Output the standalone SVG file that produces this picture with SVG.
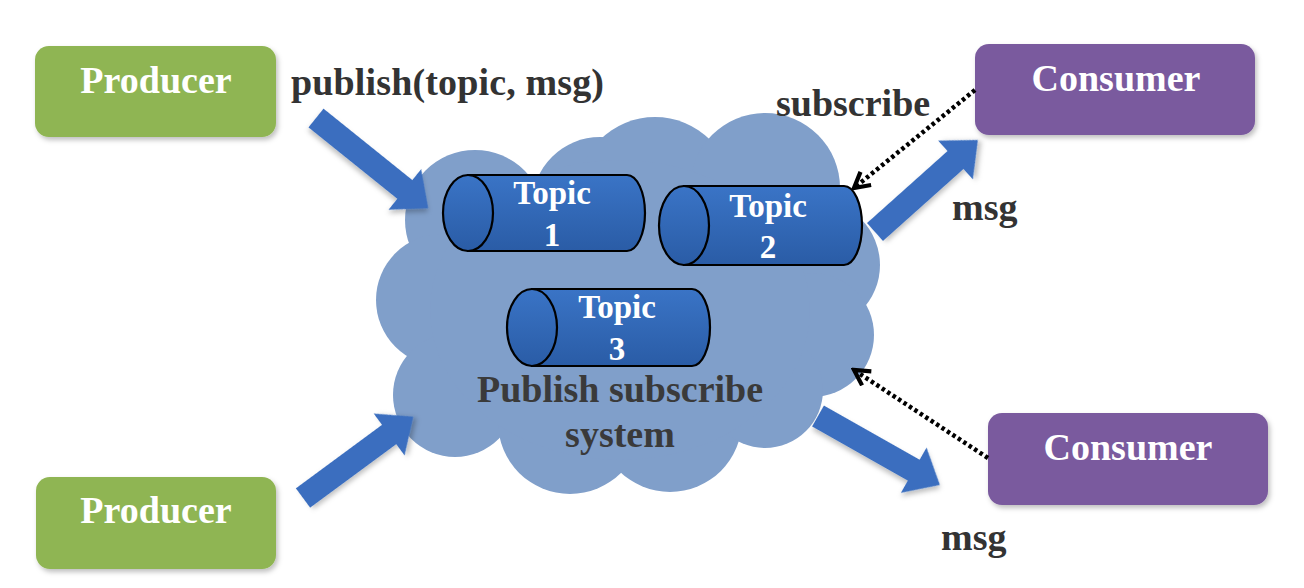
<svg xmlns="http://www.w3.org/2000/svg" width="1304" height="588" viewBox="0 0 1304 588">
<style>
.lbl{font-family:"Liberation Serif",serif;font-weight:bold;font-size:38px;fill:#333333}
.box{font-family:"Liberation Serif",serif;font-weight:bold;font-size:38px;fill:#ffffff}
.tp{font-family:"Liberation Serif",serif;font-weight:bold;font-size:33px;fill:#ffffff}
.cyl{fill:url(#cg);stroke:#000;stroke-width:2.2}
.barrow{fill:#3a6ebf;filter:url(#sh)}
.dot{stroke:#000;stroke-width:4.5;stroke-dasharray:3.5 3;fill:none;marker-end:url(#chev)}
</style>
<defs>
<linearGradient id="cg" x1="0" y1="0" x2="0" y2="1">
<stop offset="0" stop-color="#3a74c6"/>
<stop offset="1" stop-color="#2a5ca6"/>
</linearGradient>
<filter id="sh" x="-20%" y="-20%" width="140%" height="140%">
<feDropShadow dx="2" dy="3" stdDeviation="2.5" flood-color="#000" flood-opacity="0.25"/>
</filter>
<marker id="chev" viewBox="0 0 12 12" refX="10" refY="6" markerWidth="4.5" markerHeight="4.5" orient="auto" markerUnits="strokeWidth">
<path d="M1,1 L10,6 L1,11" fill="none" stroke="#000" stroke-width="2.5"/>
</marker>
</defs>
<rect width="1304" height="588" fill="#ffffff"/>

<g id="cloud" fill="#809fca">
<circle cx="475" cy="220" r="70"/>
<circle cx="600" cy="205" r="68"/>
<circle cx="655" cy="195" r="78"/>
<circle cx="765" cy="188" r="75"/>
<circle cx="815" cy="265" r="65"/>
<circle cx="812" cy="335" r="62"/>
<circle cx="442" cy="300" r="66"/>
<circle cx="455" cy="395" r="62"/>
<circle cx="570" cy="422" r="72"/>
<circle cx="670" cy="420" r="72"/>
<circle cx="765" cy="390" r="58"/>
<ellipse cx="620" cy="310" rx="190" ry="150"/>
</g>

<g id="topic1">
<path class="cyl" d="M468,175 H627 A18,38 0 0 1 627,251 H468 Z"/>
<ellipse class="cyl" cx="468" cy="213" rx="25" ry="38"/>
<text class="tp" x="552" y="204" text-anchor="middle">Topic</text>
<text class="tp" x="552" y="246" text-anchor="middle">1</text>
</g>
<g id="topic2">
<path class="cyl" d="M684,186 H844 A18,39.5 0 0 1 844,265 H684 Z"/>
<ellipse class="cyl" cx="684" cy="225.5" rx="25" ry="39.5"/>
<text class="tp" x="768" y="217" text-anchor="middle">Topic</text>
<text class="tp" x="768" y="258" text-anchor="middle">2</text>
</g>
<g id="topic3">
<path class="cyl" d="M532,289 H692 A18,38.5 0 0 1 692,366 H532 Z"/>
<ellipse class="cyl" cx="532" cy="327.5" rx="25" ry="38.5"/>
<text class="tp" x="617" y="318" text-anchor="middle">Topic</text>
<text class="tp" x="617" y="360" text-anchor="middle">3</text>
</g>
<g id="system-label">
<text class="lbl" x="620" y="402" text-anchor="middle" style="fill:#3a3a3a">Publish subscribe</text>
<text class="lbl" x="620" y="447" text-anchor="middle" style="fill:#3a3a3a">system</text>
</g>

<g id="producer1">
<rect x="35" y="46" width="241" height="91" rx="14" fill="#8fb552" filter="url(#sh)"/>
<text class="box" x="156" y="93" text-anchor="middle">Producer</text>
</g>
<g id="producer2">
<rect x="36" y="477" width="240" height="92" rx="14" fill="#8fb552" filter="url(#sh)"/>
<text class="box" x="156" y="523" text-anchor="middle">Producer</text>
</g>
<g id="consumer1">
<rect x="975" y="44" width="280" height="91" rx="14" fill="#7a5a9e" filter="url(#sh)"/>
<text class="box" x="1116" y="91" text-anchor="middle">Consumer</text>
</g>
<g id="consumer2">
<rect x="988" y="413" width="280" height="92" rx="14" fill="#7a5a9e" filter="url(#sh)"/>
<text class="box" x="1128" y="460" text-anchor="middle">Consumer</text>
</g>

<g id="connectors">
<path class="barrow" transform="translate(316,118) rotate(38.8)" d="M0,-12 H114 V-26 L144,0 L114,26 V12 H0 Z"/>
<path class="barrow" transform="translate(303,498) rotate(-36.4)" d="M0,-12 H107 V-26 L137,0 L107,26 V12 H0 Z"/>
<path class="barrow" transform="translate(875,232) rotate(-41.8)" d="M0,-12 H108 V-26 L138,0 L108,26 V12 H0 Z"/>
<path class="barrow" transform="translate(818,416) rotate(29.5)" d="M0,-12 H110 V-26 L140,0 L110,26 V12 H0 Z"/>
<line class="dot" x1="975" y1="90" x2="854" y2="188"/>
<line class="dot" x1="988" y1="458" x2="854" y2="370"/>
<text class="lbl" x="291" y="95" textLength="313">publish(topic, msg)</text>
<text class="lbl" x="776" y="116">subscribe</text>
<text class="lbl" x="952" y="220">msg</text>
<text class="lbl" x="941" y="550">msg</text>
</g>
</svg>
